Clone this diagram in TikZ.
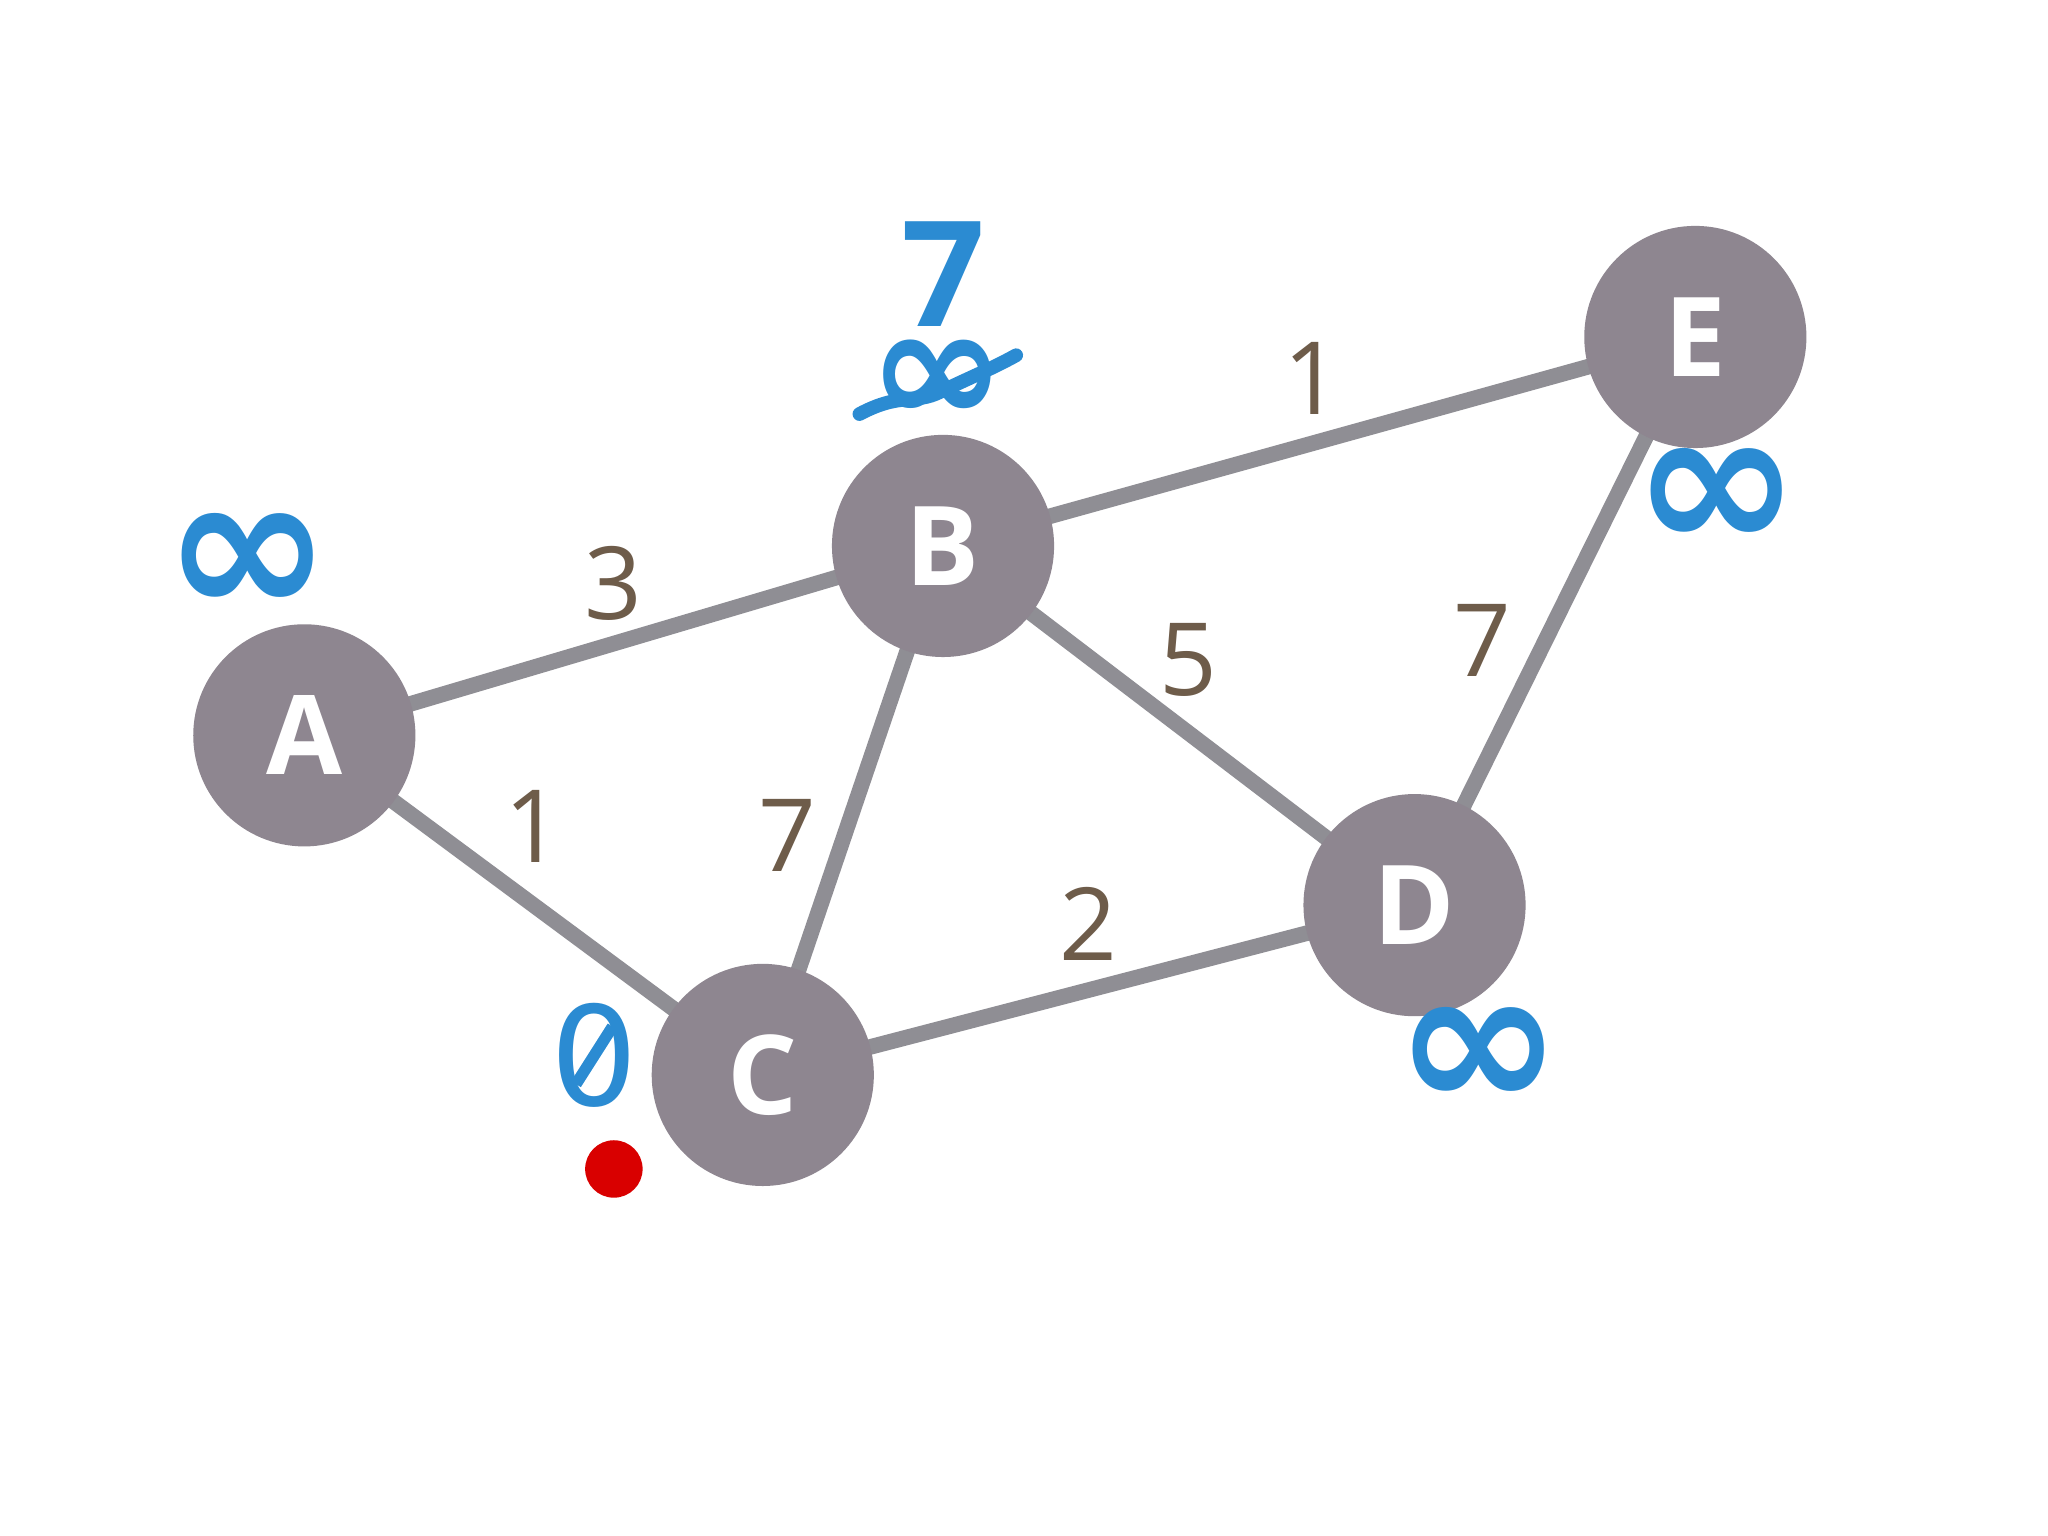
\documentclass[tikz,border=0pt]{standalone}
\usepackage{fontspec}
\setmainfont{Open Sans}
\newfontfamily\myinffont{DejaVu Sans}
\newfontfamily\myzerofont{DejaVu Sans}
\definecolor{ng}{HTML}{8E8690}
\definecolor{eg}{HTML}{8F8E94}
\definecolor{bl}{HTML}{2B8BD2}
\definecolor{wt}{HTML}{6E5C4A}
\begin{document}
\begin{tikzpicture}[x=0.01cm,y=-0.01cm,
  vert/.style={circle,fill=ng,minimum size=1.7cm,inner sep=0pt,text=white,font=\bfseries\fontsize{24}{24}\selectfont},
  edge/.style={draw=eg,line width=3.4pt},
  wlab/.style={text=wt,font=\fontsize{22}{22}\selectfont},
  inf/.style={text=bl,font=\myinffont\bfseries\fontsize{44}{44}\selectfont}]
\useasboundingbox (0,0) rectangle (1568,1176);
\fill[white] (0,0) rectangle (1568,1176);
\coordinate (pA) at (233,563);
\coordinate (pB) at (722,418);
\coordinate (pC) at (584,823);
\coordinate (pD) at (1083,693);
\coordinate (pE) at (1298,258);
\draw[edge] (pA) -- (pB);
\draw[edge] (pA) -- (pC);
\draw[edge] (pB) -- (pC);
\draw[edge] (pB) -- (pD);
\draw[edge] (pB) -- (pE);
\draw[edge] (pC) -- (pD);
\draw[edge] (pD) -- (pE);
\node[vert] (A) at (pA) {A};
\node[vert] (B) at (pB) {B};
\node[vert] (C) at (pC) {C};
\node[vert] (D) at (pD) {D};
\node[vert] (E) at (pE) {E};
\node[wlab] (w1) at (470,447) {3};
\node[wlab] (w2) at (1005,290) {1};
\node[wlab] (w3) at (910,505) {5};
\node[wlab] (w4) at (1135,490) {7};
\node[wlab] (w5) at (408,633) {1};
\node[wlab] (w6) at (603,640) {7};
\node[wlab] (w7) at (833,707) {2};
\node[inf] (iA) at (190,432) {∞};
\node[inf] (iE) at (1314,382) {∞};
\node[inf] (iD) at (1132,810) {∞};
\node[inf,font=\myinffont\bfseries\fontsize{36}{36}\selectfont] (iB) at (718,292) {∞};
\draw[bl,line width=3pt,line cap=round] (658,317) .. controls (690,300) and (700,310) .. (720,300) .. controls (745,288) and (760,282) .. (778,272);
\node[text=bl,font=\bfseries\fontsize{32}{32}\selectfont] (sB) at (722,210) {7};
\node[text=bl,font=\myzerofont\fontsize{30}{30}\selectfont] (z) at (455,808) {0};
\draw[bl,line width=2.5pt] (z.center) ++(14,-22) -- ++(-28,44);
\fill[red!85!black] (470,895) circle (22);
\end{tikzpicture}
\end{document}
